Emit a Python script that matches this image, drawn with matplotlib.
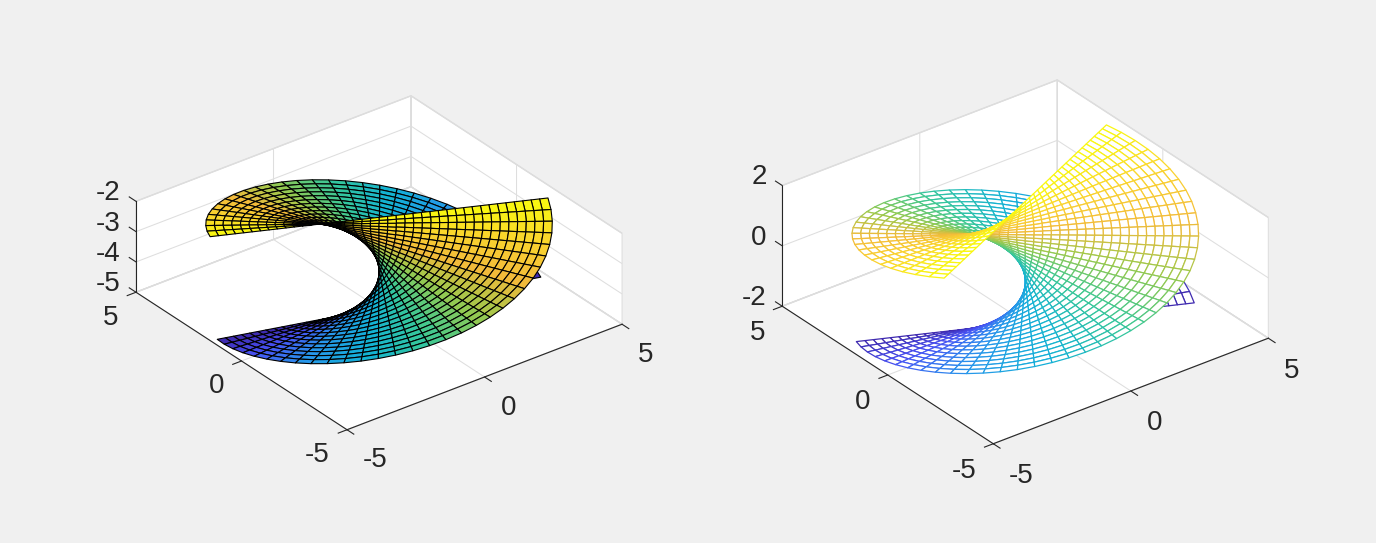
"""
Two helicoid panels, surf on the left and mesh on the right
"""

import numpy as np
import matplotlib as mpl
from matplotlib import pyplot as plt
from matplotlib.colors import LinearSegmentedColormap

# surface parameters
radius = [-5.0, -4.75, -4.5, -4.25, -4.0, -3.75, -3.5, -3.25, -3.0, -2.75, -2.5,
          -2.25, -2.0, -1.75, -1.5, -1.25, -1.0, -0.75, -0.5, -0.25, 0.0,
          0.25, 0.5, 0.75, 1.0, 1.25, 1.5, 1.75, 2.0, 2.25, 2.5,
          2.75, 3.0, 3.25, 3.5, 3.75, 4.0, 4.25, 4.5, 4.75, 5.0]
z_left = [-5.0, -4.9, -4.8, -4.7, -4.6, -4.5, -4.4, -4.3, -4.2, -4.1, -4.0,
          -3.9, -3.8, -3.7, -3.6, -3.5, -3.4, -3.3, -3.2, -3.1, -3.0,
          -2.9, -2.8, -2.7, -2.6, -2.5, -2.4, -2.3, -2.2, -2.1, -2.0]
z_right = [-2.0, -1.9, -1.8, -1.7, -1.6, -1.5, -1.4, -1.3, -1.2, -1.1, -1.0,
           -0.9, -0.8, -0.7, -0.6, -0.5, -0.4, -0.3, -0.2, -0.1, 0.0,
           0.1, 0.2, 0.3, 0.4, 0.5, 0.6, 0.7, 0.8, 0.9, 1.0,
           1.1, 1.2, 1.3, 1.4, 1.5, 1.6, 1.7, 1.8, 1.9, 2.0]
xy_ticks = [-5, 0, 5]
z_ticks_left = [-5, -4, -3, -2]
z_ticks_right = [-2, 0, 2]

parula_stops = [(0.2422, 0.1504, 0.6603), (0.2780, 0.3200, 0.9600),
                (0.1540, 0.5902, 0.9218), (0.0689, 0.6948, 0.8394),
                (0.2161, 0.7843, 0.5923), (0.6000, 0.7900, 0.3000),
                (0.9500, 0.7300, 0.2300), (0.9800, 0.8300, 0.1800),
                (0.9763, 0.9831, 0.0538)]

BG = "#f0f0f0"
TEXT = "#262626"
LIGHT = "#d8d8d8"
W, H = 1376, 543

plt.rcParams["font.family"] = ["Liberation Sans", "DejaVu Sans"]
plt.rcParams["axes.unicode_minus"] = False
plt.rcParams["grid.color"] = "#dedede"
plt.rcParams["grid.linewidth"] = 0.75

parula = LinearSegmentedColormap.from_list("parula", parula_stops)


def helicoid(z_values):
    # x and y follow from radius and z: the sheet winds once round the z axis
    u, z = np.meshgrid(radius, z_values)
    return -u * np.sin(z), u * np.cos(z), z


def cell_colors(z):
    mid = (z[:-1, :-1] + z[1:, :-1] + z[:-1, 1:] + z[1:, 1:]) / 4
    return parula((mid - z.min()) / (z.max() - z.min()))


def style_axes(ax, z_ticks, zlim):
    ax.set_proj_type("ortho")
    ax.view_init(elev=30, azim=-127.5)
    ax.set_facecolor("none")
    ax.patch.set_alpha(0)
    ax.set_xlim(-5, 5)
    ax.set_ylim(-5, 5)
    ax.set_zlim(*zlim)
    ax.set_xticks(xy_ticks)
    ax.set_yticks(xy_ticks)
    ax.set_zticks(z_ticks)
    ax.tick_params(labelsize=20, colors=TEXT, pad=6)
    ax.tick_params(axis="y", pad=3.5)
    ax.tick_params(axis="z", pad=-2)
    for axis in (ax.xaxis, ax.yaxis, ax.zaxis):
        axis.set_pane_color("white")
        axis.pane.set_edgecolor(LIGHT)
        axis.line.set_color(TEXT)
        axis.line.set_linewidth(0.8)
        axis._axinfo["tick"]["linewidth"] = {True: 0.8, False: 0.5}
        axis._axinfo["tick"]["color"] = TEXT
    # ticks point out of the box, which is a different sign per axis
    for axis in (ax.xaxis, ax.yaxis):
        axis._axinfo["tick"]["inward_factor"] = 0.4
        axis._axinfo["tick"]["outward_factor"] = 0.0
    ax.zaxis._axinfo["tick"]["inward_factor"] = 0.0
    ax.zaxis._axinfo["tick"]["outward_factor"] = 0.4
    ax.zaxis._get_tickdir = lambda position: 1
    ax.zaxis.set_ticks_position("upper")
    for label in ax.get_xticklabels():
        label.set_ha("left")
    for label in ax.get_yticklabels():
        label.set_ha("right")
    for label in ax.get_zticklabels():
        label.set_ha("right")
        label.set_va("baseline")
    ax.grid(True)


fig = plt.figure(figsize=(W / 100, H / 100), dpi=100, facecolor=BG)

# left panel
ax1 = fig.add_axes([129.1 / W, 30.3 / H, 486.7 / W, 486.7 / H], projection="3d")
ax1.set_box_aspect((346.7, 346.7, 105))
style_axes(ax1, z_ticks_left, (-5, -2))
x, y, z = helicoid(z_left)
ax1.plot_surface(x, y, z, rstride=1, cstride=1, facecolors=cell_colors(z),
                 edgecolor="black", linewidth=0.8, shade=False)

# right panel
ax2 = fig.add_axes([771.2 / W, 27.05 / H, 494.8 / W, 494.8 / H], projection="3d")
ax2.set_box_aspect((346.7, 346.7, 139.4))
style_axes(ax2, z_ticks_right, (-2, 2))
x, y, z = helicoid(z_right)
surf = ax2.plot_surface(x, y, z, rstride=1, cstride=1, color="white",
                        linewidth=0.9, shade=False)
surf.set_edgecolor(cell_colors(z).reshape(-1, 4))

fig.savefig("out.png", dpi=100, facecolor=BG)
